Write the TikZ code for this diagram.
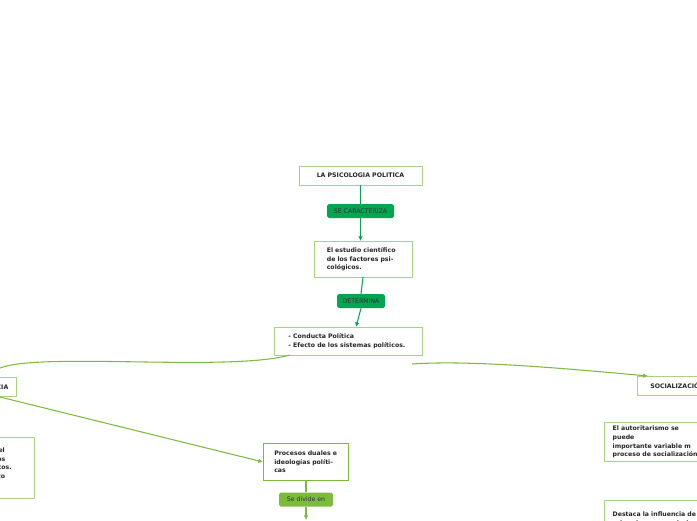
\documentclass[tikz,border=0pt]{standalone}
\usetikzlibrary{arrows.meta}
\usepackage{fontspec}
\setmainfont{DejaVu Sans}
\definecolor{dg}{HTML}{00A651}
\definecolor{lg}{HTML}{7DBB3C}
\definecolor{bx}{HTML}{A8D382}
\begin{document}
\begin{tikzpicture}[x=0.03cm,y=-0.03cm,
 box/.style={draw=bx,line width=0.8pt,fill=white,font=\bfseries\fontsize{5.3}{7.4}\selectfont,text=black!85,align=left,inner xsep=7pt,inner ysep=3pt,anchor=north west},
 tag/.style={rounded corners=1.5pt,font=\fontsize{5.3}{6}\selectfont,text=black!80,inner sep=0pt,minimum height=0.42cm},
 dline/.style={draw=dg,line width=0.9pt},
 lline/.style={draw=lg,line width=0.9pt},
 arr/.style={-{Latex[length=4pt,width=4pt]}}]
\useasboundingbox (0,0) rectangle (697,520);
\clip (0,0) rectangle (697,520);
\node[box,minimum width=3.69cm,minimum height=0.57cm,align=center,anchor=center] (t) at (360.5,175.5) {LA PSICOLOGIA POLITICA};
\node[tag,fill=dg,minimum width=2.01cm] (sc) at (360.5,211) {SE CARACTERIZA};
\node[box,minimum width=2.94cm,minimum height=1.08cm,text width=2.2cm] (e) at (314,241) {El estudio científico de los factores psicológicos.};
\node[tag,fill=dg,minimum width=1.44cm] (d) at (361,301) {DETERMINA};
\node[box,minimum width=4.44cm,minimum height=0.84cm,text width=3.6cm] (c) at (274,327) {- Conducta Política\\- Efecto de los sistemas políticos.};
\node[box,minimum height=0.57cm,anchor=north east] (l) at (17,377) {DEMOCRACIA};
\node[box,minimum width=2.6cm,minimum height=1.83cm,text width=2.4cm,anchor=north east] (lb) at (35,437) {Participación del\\ciudadano en los\\procesos políticos.\\Comportamiento político};
\node[box,draw=lg,minimum width=2.55cm,minimum height=1.11cm,text width=1.9cm] (p) at (263,443) {Procesos duales e ideologías políticas};
\node[tag,fill=lg,minimum width=1.62cm] (sd) at (306,499.5) {Se divide en};
\coordinate (pe) at (306,520);
\node[box,minimum width=2.4cm,minimum height=0.57cm] (s) at (637,376) {SOCIALIZACIÓN};
\node[box,minimum width=3cm,minimum height=1.11cm,text width=2.7cm] (a) at (604,422) {El autoritarismo se puede\\importante variable m\\proceso de socialización};
\node[box,minimum width=3cm,minimum height=1.11cm,text width=2.7cm] (de) at (604,500) {Destaca la influencia de\\primarios y secundarios};
\draw[dline] (t.south) -- (sc.north);
\draw[dline,arr] (sc.south) -- (e.north-|sc.south);
\draw[dline] (363,277) -- (d.north);
\draw[dline,arr] (d.south) -- (356,327);
\draw[lline] (290,355) .. controls (230,372) and (40,352) .. (0,368);
\draw[lline,arr] (0,397) -- (p.west);
\draw[lline,arr] (412,364) .. controls (470,360) and (560,368) .. (648,376);
\draw[lline] (p.south-|sd.north) -- (sd.north);
\draw[lline,arr] (sd.south) -- (pe);
\end{tikzpicture}
\end{document}
